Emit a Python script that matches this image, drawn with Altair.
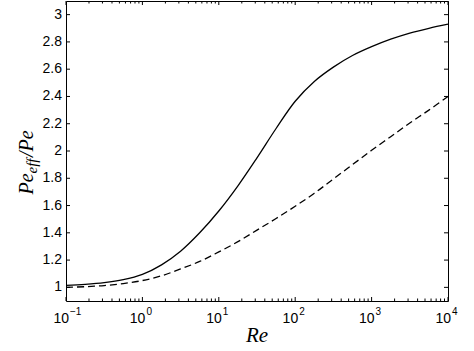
import altair as alt
import pandas as pd

# ---- data ----
re_vals = [0.1, 0.178, 0.316, 0.562, 1, 1.78, 3.16, 5.62, 10, 17.8, 31.6,
           56.2, 100, 178, 316, 562, 1000, 1778, 3162, 5623, 10000]
pe_solid = [1.015, 1.022, 1.034, 1.056, 1.095, 1.165, 1.265, 1.40, 1.56, 1.745,
            1.95, 2.165, 2.365, 2.51, 2.615, 2.70, 2.765, 2.82, 2.865, 2.90, 2.93]
pe_dashed = [1.0, 1.005, 1.013, 1.028, 1.05, 1.085, 1.135, 1.19, 1.26, 1.335,
             1.42, 1.505, 1.595, 1.69, 1.795, 1.90, 2.005, 2.105, 2.205, 2.30, 2.40]

x_major = [0.1, 1, 10, 100, 1000, 10000]
x_exp = ["−1", "0", "1", "2", "3", "4"]
x_minor = [0.2, 0.3, 0.4, 0.5, 0.6, 0.7, 0.8, 0.9,
           2, 3, 4, 5, 6, 7, 8, 9,
           20, 30, 40, 50, 60, 70, 80, 90,
           200, 300, 400, 500, 600, 700, 800, 900,
           2000, 3000, 4000, 5000, 6000, 7000, 8000, 9000]
y_ticks = [1.0, 1.2, 1.4, 1.6, 1.8, 2.0, 2.2, 2.4, 2.6, 2.8, 3.0]
y_labels = ["1", "1.2", "1.4", "1.6", "1.8", "2", "2.2", "2.4", "2.6", "2.8", "3"]

W, H = 382, 300
FONT = "Liberation Sans"
SERIF = "Liberation Serif"

xs = alt.Scale(type="log", domain=[0.1, 10000], nice=False)
ys = alt.Scale(domain=[0.9, 3.1], nice=False, zero=False)

df = pd.DataFrame({"Re": re_vals, "solid": pe_solid, "dashed": pe_dashed})

solid = alt.Chart(df).mark_line(color="black", strokeWidth=1.3,
                                interpolate="catmull-rom").encode(
    x=alt.X("Re:Q", scale=xs, axis=None),
    y=alt.Y("solid:Q", scale=ys, axis=None),
)
dashed = alt.Chart(df).mark_line(color="black", strokeWidth=1.3,
                                 strokeDash=[7, 4],
                                 interpolate="catmull-rom").encode(
    x=alt.X("Re:Q", scale=xs, axis=None),
    y=alt.Y("dashed:Q", scale=ys, axis=None),
)

maj = pd.DataFrame({"t": x_major, "e": x_exp})
mnr = pd.DataFrame({"t": x_minor})
yt = pd.DataFrame({"t": y_ticks, "lab": y_labels})


def xt(data, y0, y1):
    return alt.Chart(data).mark_rule(color="black", strokeWidth=1).encode(
        x=alt.X("t:Q", scale=xs, axis=None), y=alt.value(y0), y2=alt.value(y1))


def ytk(x0, x1):
    return alt.Chart(yt).mark_rule(color="black", strokeWidth=1).encode(
        y=alt.Y("t:Q", scale=ys, axis=None), x=alt.value(x0), x2=alt.value(x1))


ticks = [
    xt(maj, H, H - 4), xt(maj, 0, 4),
    xt(mnr, H, H - 2.5), xt(mnr, 0, 2.5),
    ytk(0, 4), ytk(W, W - 4),
]

# x tick labels: "10" with a raised exponent
base_lbl = alt.Chart(maj).mark_text(
    text="10", align="right", baseline="alphabetic", dx=3,
    font=FONT, fontSize=14, color="black"
).encode(x=alt.X("t:Q", scale=xs, axis=None), y=alt.value(H + 21.5))
exp_lbl = alt.Chart(maj).mark_text(
    align="left", baseline="alphabetic", dx=4,
    font=FONT, fontSize=10, color="black"
).encode(x=alt.X("t:Q", scale=xs, axis=None), y=alt.value(H + 14), text="e:N")

# y tick labels
y_lbl = alt.Chart(yt).mark_text(
    align="right", baseline="middle", font=FONT, fontSize=14, color="black"
).encode(y=alt.Y("t:Q", scale=ys, axis=None), x=alt.value(-4), text="lab:N")

dummy = pd.DataFrame({"a": [0]})


def ttl(text, x, y, size, angle=270, align="left"):
    return alt.Chart(dummy).mark_text(
        text=text, angle=angle, align=align, baseline="alphabetic",
        font=SERIF, fontStyle="italic", fontSize=size, color="black"
    ).encode(x=alt.value(x), y=alt.value(y))


titles = [
    ttl("Pe", -33, 193.5, 20),
    ttl("eff", -29, 172.5, 15),
    ttl("/Pe", -33, 156, 20),
    ttl("Re", W / 2, 340.5, 21, angle=0, align="center"),
]

chart = alt.layer(solid, dashed, *ticks, base_lbl, exp_lbl, y_lbl, *titles).properties(
    width=W, height=H,
    padding={"left": 66, "right": 26, "top": 1, "bottom": 50},
    autosize="none",
).configure_view(stroke="black", strokeWidth=1)

chart.save("out.html", embed_options={"renderer": "svg", "actions": False})
